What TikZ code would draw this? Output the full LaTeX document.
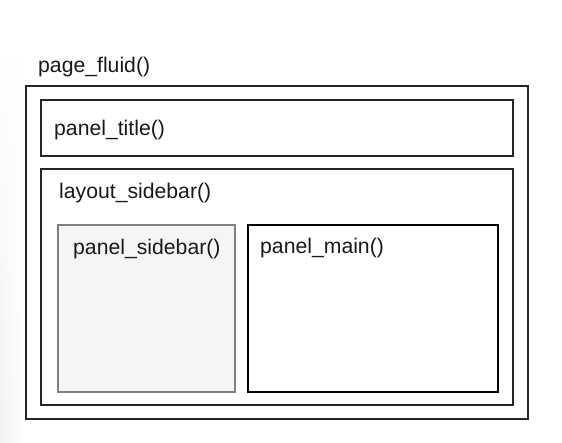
\documentclass[tikz,border=0pt]{standalone}
\usepackage{fontspec}
\setmainfont{Liberation Sans}
\usetikzlibrary{fadings}
\begin{document}
\begin{tikzpicture}[x=1pt,y=-1pt,
  box/.style={draw=black!85,line width=1.1pt},
  lbl/.style={anchor=west,inner sep=0pt,font=\fontsize{21.2}{24}\selectfont,text=black!90}]
\useasboundingbox (0,0) rectangle (562,442);
\fill[white] (0,0) rectangle (562,442);
\shade[left color=black!5,right color=white,path fading=north] (0,60) rectangle (24,442);
\draw[box] (26,86) rectangle (528,419);
\node[lbl] (lpage) at (38,67) {page\_fluid()};
\draw[box] (41,100) rectangle (513,156);
\node[lbl] (ltitle) at (54,130) {panel\_title()};
\draw[box] (41,169) rectangle (513,405);
\node[lbl] (llayout) at (59,193) {layout\_sidebar()};
\draw[fill=black!4,draw=black!50,line width=1.1pt] (58,225) rectangle (235,392);
\node[lbl] (lside) at (73,249) {panel\_sidebar()};
\draw[box,draw=black] (248,225) rectangle (498,392);
\node[lbl] (lmain) at (260,248) {panel\_main()};
\end{tikzpicture}
\end{document}
